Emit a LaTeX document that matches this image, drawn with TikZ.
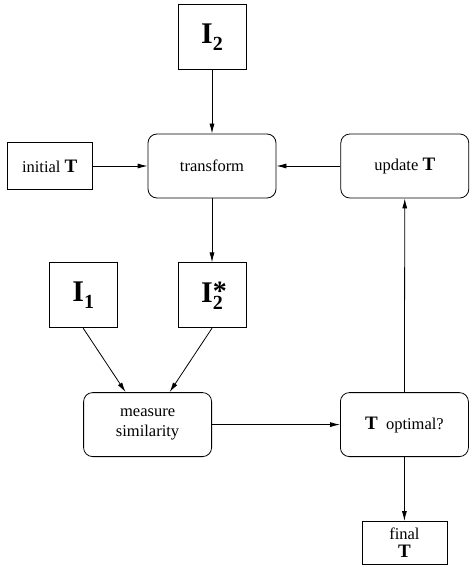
\documentclass[tikz,border=0pt]{standalone}
\usepackage{fontspec}
\setmainfont{Liberation Serif}
\usetikzlibrary{positioning,calc,arrows.meta}
\newcommand{\lbl}{\fontsize{16.5}{20}\selectfont}
\newcommand{\bT}{{\fontsize{19}{20}\selectfont\textbf{T}}}
\newcommand{\imgI}[1]{{\fontsize{30}{30}\selectfont\textbf{I}}\raisebox{-7pt}{\fontsize{20}{20}\selectfont\textbf{#1}}}
\tikzset{
  imgbox/.style  = {shape=rectangle, draw, minimum width=68pt,
                    minimum height=65pt, inner sep=0pt},
  procbox/.style = {shape=rectangle, rounded corners=9pt, draw,
                    align=center, minimum width=128pt,
                    minimum height=64pt, font=\lbl},
  termbox/.style = {shape=rectangle, draw, align=center,
                    minimum width=85pt, font=\lbl},
  flow/.style    = {-{Latex[length=10pt,width=5pt]}}
}
\begin{document}
\begin{tikzpicture}
 [line width=0.8pt, node distance=64pt]
  \useasboundingbox (0,0) rectangle (474pt,-567pt);

  \node [procbox] (trans) at (212pt,-166pt) {transform};
  \node [imgbox, above=of trans] (img2) {\imgI{2}};
  \node [imgbox, below=of trans] (img2s)
    {{\fontsize{30}{30}\selectfont\textbf{I}}\rlap{\raisebox{2pt}{\fontsize{28}{28}\selectfont\textbf{*}}}\raisebox{-7pt}{\fontsize{20}{20}\selectfont\textbf{2}}};
  \node [imgbox, left=60pt of img2s] (img1) {\imgI{1}};
  \node [procbox, right=of trans] (update) {update \bT};
  \node [termbox, minimum height=47pt, left=55pt of trans] (init) {initial \bT};
  \node [procbox, anchor=north, yshift=-64pt]
    (meas) at ($(img1.south)!0.5!(img2s.south)$) {measure\\similarity};
  \node [procbox, right=128pt of meas] (opt) {\bT\ \ optimal?};
  \node [termbox, minimum height=43pt, below=of opt] (final)
    {final\\[-2pt]\bT};

  \draw [flow] (img2) -- (trans);
  \draw [flow] (init) -- (trans);
  \draw [flow] (update) -- (trans);
  \draw [flow] (trans) -- (img2s);
  \draw [flow] (img1.south) -- ([xshift=-22pt]meas.north);
  \draw [flow] (img2s.south) -- ([xshift=22pt]meas.north);
  \draw [flow] (meas) -- (opt);
  \draw [flow] (opt) -- (update);
  \draw [flow] (opt) -- (final);
\end{tikzpicture}
\end{document}
